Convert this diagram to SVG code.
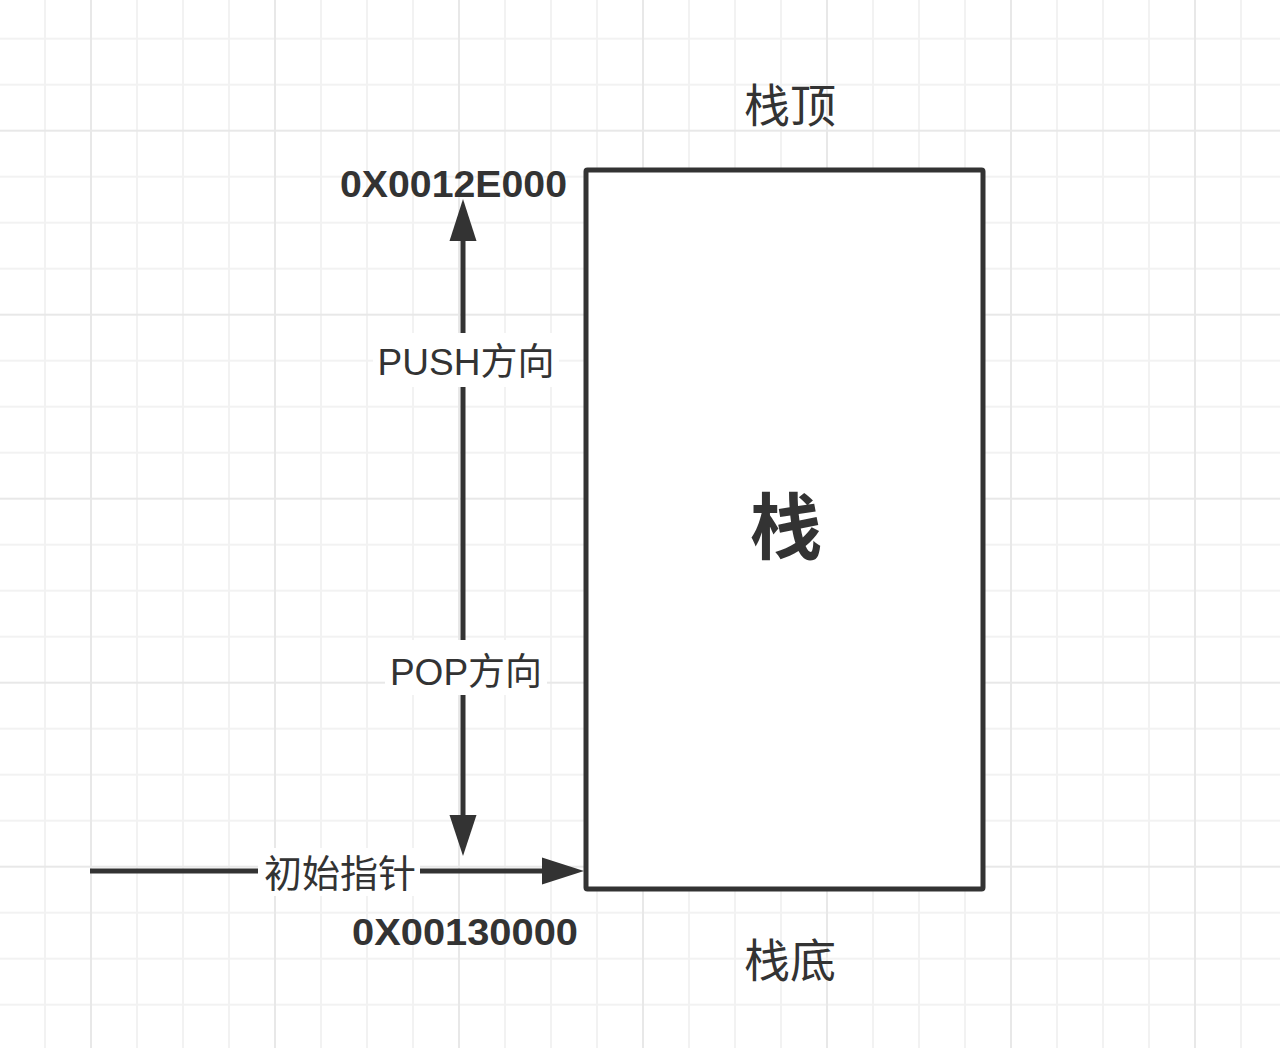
<svg xmlns="http://www.w3.org/2000/svg" width="1280" height="1048" viewBox="0 0 1280 1048">
<style>
.txt{fill:#333;font-family:"Liberation Sans","Noto Sans CJK SC",sans-serif;}
.cjk{fill:#333;font-family:"Noto Sans CJK SC",sans-serif;}
.edge{stroke:#333;stroke-width:5;fill:none;}
.head{fill:#333;stroke:none;}
.lblbg{fill:#fff;}
</style>
<defs>
<pattern id="grid" patternUnits="userSpaceOnUse" x="89" y="128.7" width="184" height="184">
<rect x="0" y="47" width="184" height="2" fill="#f2f2f2"/>
<rect x="0" y="93" width="184" height="2" fill="#f2f2f2"/>
<rect x="0" y="139" width="184" height="2" fill="#f2f2f2"/>
<rect x="47" y="0" width="2" height="184" fill="#f2f2f2"/>
<rect x="93" y="0" width="2" height="184" fill="#f2f2f2"/>
<rect x="139" y="0" width="2" height="184" fill="#f2f2f2"/>
<rect x="0" y="1" width="184" height="2" fill="#e8e8e8"/>
<rect x="1" y="0" width="2" height="184" fill="#e8e8e8"/>
</pattern>
</defs>
<rect x="0" y="0" width="1280" height="1048" fill="#fff"/>
<rect x="0" y="0" width="1280" height="1048" fill="url(#grid)"/>

<g id="connectors">
<g id="vertical-arrow">
<line class="edge" x1="463" y1="238" x2="463" y2="818"/>
<path class="head" d="M463,199 L476.5,241 L449.5,241 Z"/>
<path class="head" d="M463,856 L476.5,815 L449.5,815 Z"/>
<rect class="lblbg" x="373" y="333" width="186" height="54"/>
<text class="txt" x="466" y="375" font-size="37" text-anchor="middle">PUSH方向</text>
<rect class="lblbg" x="385" y="640" width="162" height="55"/>
<text class="txt" x="466" y="685" font-size="37" text-anchor="middle">POP方向</text>
</g>
<g id="pointer-arrow">
<line class="edge" x1="90" y1="871" x2="545" y2="871"/>
<path class="head" d="M584,871 L542,857.5 L542,884.5 Z"/>
<rect class="lblbg" x="258" y="848" width="162" height="48"/>
<text class="cjk" x="340" y="887" font-size="38" text-anchor="middle">初始指针</text>
</g>
</g>

<g id="stack">
<rect x="586" y="170" width="397" height="719" rx="1.5" fill="#fff" stroke="#333" stroke-width="5" stroke-linejoin="round"/>
<text class="cjk" x="786" y="553" font-size="72" font-weight="bold" text-anchor="middle">栈</text>
</g>
<g id="label-top">
<text class="cjk" x="790" y="122" font-size="46" text-anchor="middle">栈顶</text>
</g>
<g id="label-bottom">
<text class="cjk" x="790" y="977" font-size="46" text-anchor="middle">栈底</text>
</g>
<g id="addr-top">
<text class="txt" x="453.5" y="197" font-size="36" font-weight="bold" text-anchor="middle" textLength="227" lengthAdjust="spacingAndGlyphs">0X0012E000</text>
</g>
<g id="addr-bottom">
<text class="txt" x="465" y="945" font-size="36" font-weight="bold" text-anchor="middle" textLength="226" lengthAdjust="spacingAndGlyphs">0X00130000</text>
</g>
</svg>
